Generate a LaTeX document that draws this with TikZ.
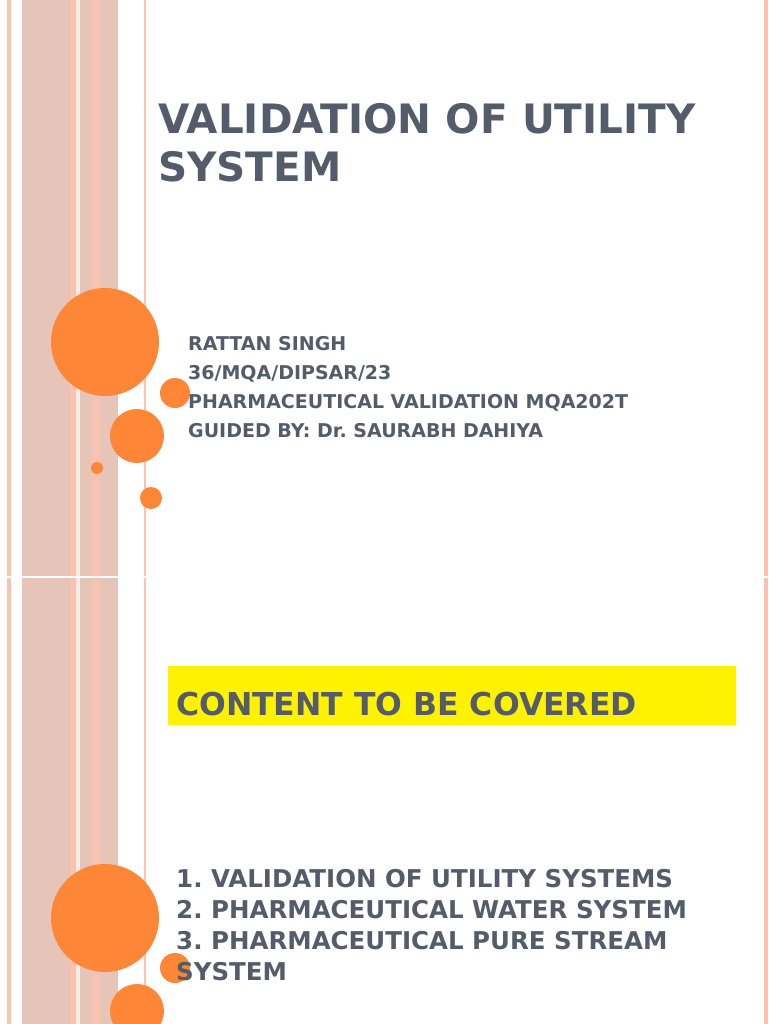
\documentclass[tikz,border=0pt]{standalone}
\usepackage{fontspec}
\setmainfont{DejaVu Sans}
\frenchspacing
\definecolor{slate}{HTML}{545C6B}
\definecolor{dot}{HTML}{FD8637}
\definecolor{band}{HTML}{E6C4B8}
\definecolor{salmon}{HTML}{FBC3AE}
\tikzset{
  dot/.style={circle, fill=dot, inner sep=0pt},
  txt/.style={anchor=north west, inner sep=0pt, text=slate, font=\bfseries, align=left}
}
\begin{document}
\begin{tikzpicture}[x=1pt,y=-1pt]
  \useasboundingbox (0,0) rectangle (768,1024);
  % left stripes, both slides
  \foreach \top/\bot in {0/576, 578/1024} {
    \fill[band] (22,\top) rectangle (118,\bot);
    \fill[salmon] (7,\top) rectangle (11,\bot);
    \fill[salmon] (70,\top) rectangle (76,\bot);
    \fill[white!70!band] (76,\top) rectangle (80,\bot);
    \fill[salmon!80!band] (92,\top) rectangle (100,\bot);
    \fill[salmon] (144,\top) rectangle (146,\bot);
    \fill[salmon] (764,\top) rectangle (768,\bot);
  }
  % top slide
  \node[dot, minimum size=108] (big1) at (105,342) {};
  \node[dot, minimum size=30] (c2) at (175,393) {};
  \node[dot, minimum size=54] (c3) at (137,436) {};
  \node[dot, minimum size=12] (c4) at (97,468) {};
  \node[dot, minimum size=22] (c5) at (151,498) {};
  \node[txt, font=\fontsize{40.5}{48}\selectfont\bfseries] (title) at (158,103)
    {VALIDATION OF UTILITY\\SYSTEM};
  \node[txt, font=\fontsize{19}{29}\selectfont\bfseries] (author) at (188,336)
    {RATTAN SINGH\\36/MQA/DIPSAR/23\\PHARMACEUTICAL VALIDATION MQA202T\\GUIDED BY: Dr. SAURABH DAHIYA};
  % bottom slide
  \node[dot, minimum size=108] (big2) at (105,918) {};
  \node[dot, minimum size=30] (c6) at (175,968) {};
  \node[dot, minimum size=54] (c7) at (137,1011) {};
  \fill[yellow] (168,666) rectangle (736,725);
  \node[txt, font=\fontsize{31.5}{36}\selectfont\bfseries] (content) at (176,692)
    {CONTENT TO BE COVERED};
  \node[txt, font=\fontsize{24.5}{31}\selectfont\bfseries] (list) at (176,869)
    {1. VALIDATION OF UTILITY SYSTEMS\\2. PHARMACEUTICAL WATER SYSTEM\\3. PHARMACEUTICAL PURE STREAM\\SYSTEM};
\end{tikzpicture}
\end{document}
